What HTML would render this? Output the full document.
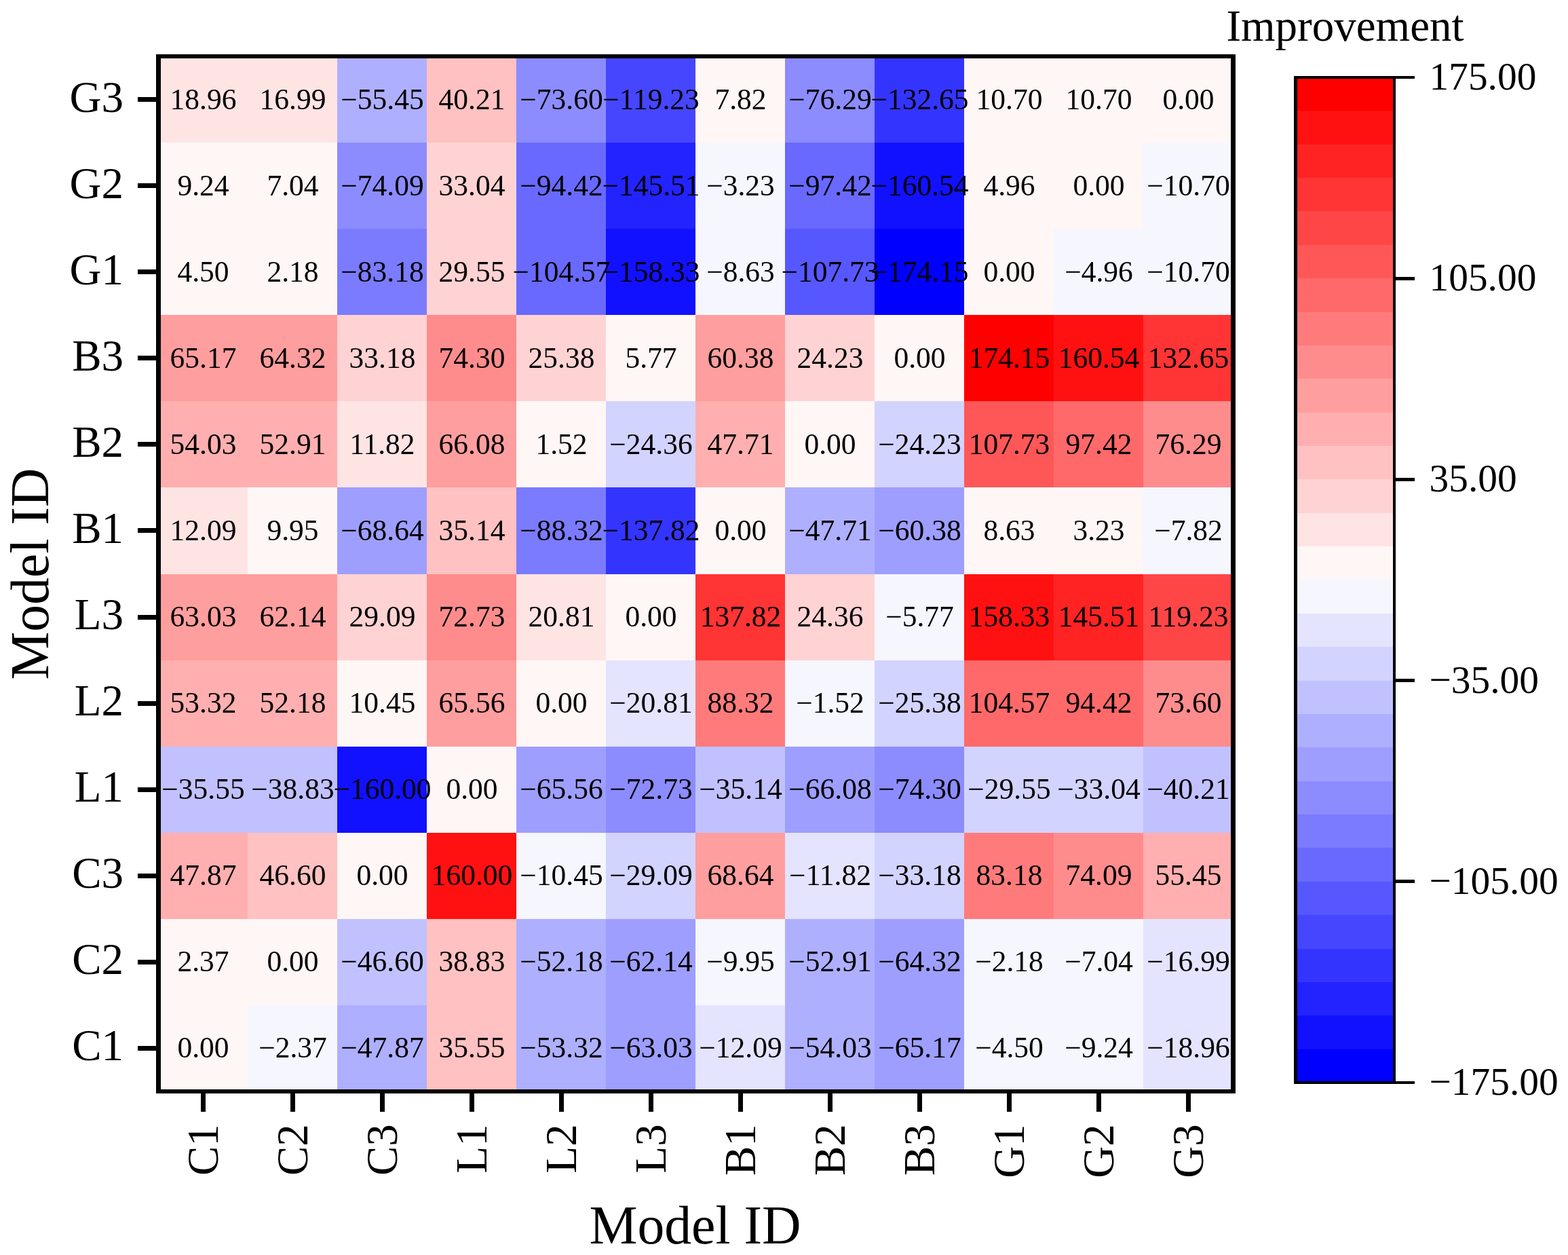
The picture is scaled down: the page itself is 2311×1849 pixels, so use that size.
<!DOCTYPE html>
<html lang="en">
<head>
<meta charset="utf-8">
<title>Improvement heatmap</title>
<style>
html,body{margin:0;padding:0;background:#fff;}
body{width:2311px;height:1849px;overflow:hidden;}
svg{display:block;}
text{font-family:"Liberation Serif","Times New Roman",Times,serif;fill:#000;}
.c{font-size:43.5px;text-anchor:middle;}
.yt{font-size:65.0px;text-anchor:end;}
.xt{font-size:65.0px;text-anchor:end;}
.al{font-size:79.7px;text-anchor:middle;}
.cb{font-size:57.4px;text-anchor:start;}
.tt{font-size:65.0px;text-anchor:middle;}
.cells rect,.bands rect{shape-rendering:crispEdges;}
</style>
</head>
<body>
<svg width="2311" height="1849" viewBox="0 0 2311 1849">
<rect x="0" y="0" width="2311" height="1849" fill="#ffffff"/>
<g class="cells">
<rect x="233" y="83" width="132" height="127" fill="#ffe4e4"/>
<rect x="365" y="83" width="132" height="127" fill="#ffe4e4"/>
<rect x="497" y="83" width="132" height="127" fill="#afafff"/>
<rect x="629" y="83" width="132" height="127" fill="#ffc1c1"/>
<rect x="761" y="83" width="132" height="127" fill="#8c8cff"/>
<rect x="893" y="83" width="132" height="127" fill="#4646ff"/>
<rect x="1025" y="83" width="132" height="127" fill="#fff6f6"/>
<rect x="1157" y="83" width="132" height="127" fill="#8c8cff"/>
<rect x="1289" y="83" width="132" height="127" fill="#3434ff"/>
<rect x="1421" y="83" width="132" height="127" fill="#fff6f6"/>
<rect x="1553" y="83" width="132" height="127" fill="#fff6f6"/>
<rect x="1685" y="83" width="132" height="127" fill="#fff6f6"/>
<rect x="233" y="210" width="132" height="127" fill="#fff6f6"/>
<rect x="365" y="210" width="132" height="127" fill="#fff6f6"/>
<rect x="497" y="210" width="132" height="127" fill="#8c8cff"/>
<rect x="629" y="210" width="132" height="127" fill="#ffd3d3"/>
<rect x="761" y="210" width="132" height="127" fill="#6969ff"/>
<rect x="893" y="210" width="132" height="127" fill="#2323ff"/>
<rect x="1025" y="210" width="132" height="127" fill="#f6f6ff"/>
<rect x="1157" y="210" width="132" height="127" fill="#6969ff"/>
<rect x="1289" y="210" width="132" height="127" fill="#1111ff"/>
<rect x="1421" y="210" width="132" height="127" fill="#fff6f6"/>
<rect x="1553" y="210" width="132" height="127" fill="#fff6f6"/>
<rect x="1685" y="210" width="132" height="127" fill="#f6f6ff"/>
<rect x="233" y="337" width="132" height="127" fill="#fff6f6"/>
<rect x="365" y="337" width="132" height="127" fill="#fff6f6"/>
<rect x="497" y="337" width="132" height="127" fill="#7b7bff"/>
<rect x="629" y="337" width="132" height="127" fill="#ffd3d3"/>
<rect x="761" y="337" width="132" height="127" fill="#6969ff"/>
<rect x="893" y="337" width="132" height="127" fill="#1111ff"/>
<rect x="1025" y="337" width="132" height="127" fill="#f6f6ff"/>
<rect x="1157" y="337" width="132" height="127" fill="#5757ff"/>
<rect x="1289" y="337" width="132" height="127" fill="#0000ff"/>
<rect x="1421" y="337" width="132" height="127" fill="#fff6f6"/>
<rect x="1553" y="337" width="132" height="127" fill="#f6f6ff"/>
<rect x="1685" y="337" width="132" height="127" fill="#f6f6ff"/>
<rect x="233" y="464" width="132" height="127" fill="#ff9e9e"/>
<rect x="365" y="464" width="132" height="127" fill="#ff9e9e"/>
<rect x="497" y="464" width="132" height="127" fill="#ffd3d3"/>
<rect x="629" y="464" width="132" height="127" fill="#ff8c8c"/>
<rect x="761" y="464" width="132" height="127" fill="#ffd3d3"/>
<rect x="893" y="464" width="132" height="127" fill="#fff6f6"/>
<rect x="1025" y="464" width="132" height="127" fill="#ff9e9e"/>
<rect x="1157" y="464" width="132" height="127" fill="#ffd3d3"/>
<rect x="1289" y="464" width="132" height="127" fill="#fff6f6"/>
<rect x="1421" y="464" width="132" height="127" fill="#ff0000"/>
<rect x="1553" y="464" width="132" height="127" fill="#ff1111"/>
<rect x="1685" y="464" width="132" height="127" fill="#ff3434"/>
<rect x="233" y="591" width="132" height="127" fill="#ffafaf"/>
<rect x="365" y="591" width="132" height="127" fill="#ffafaf"/>
<rect x="497" y="591" width="132" height="127" fill="#ffe4e4"/>
<rect x="629" y="591" width="132" height="127" fill="#ff9e9e"/>
<rect x="761" y="591" width="132" height="127" fill="#fff6f6"/>
<rect x="893" y="591" width="132" height="127" fill="#d3d3ff"/>
<rect x="1025" y="591" width="132" height="127" fill="#ffafaf"/>
<rect x="1157" y="591" width="132" height="127" fill="#fff6f6"/>
<rect x="1289" y="591" width="132" height="127" fill="#d3d3ff"/>
<rect x="1421" y="591" width="132" height="127" fill="#ff5757"/>
<rect x="1553" y="591" width="132" height="127" fill="#ff6969"/>
<rect x="1685" y="591" width="132" height="127" fill="#ff8c8c"/>
<rect x="233" y="718" width="132" height="128" fill="#ffe4e4"/>
<rect x="365" y="718" width="132" height="128" fill="#fff6f6"/>
<rect x="497" y="718" width="132" height="128" fill="#9e9eff"/>
<rect x="629" y="718" width="132" height="128" fill="#ffc1c1"/>
<rect x="761" y="718" width="132" height="128" fill="#7b7bff"/>
<rect x="893" y="718" width="132" height="128" fill="#3434ff"/>
<rect x="1025" y="718" width="132" height="128" fill="#fff6f6"/>
<rect x="1157" y="718" width="132" height="128" fill="#afafff"/>
<rect x="1289" y="718" width="132" height="128" fill="#9e9eff"/>
<rect x="1421" y="718" width="132" height="128" fill="#fff6f6"/>
<rect x="1553" y="718" width="132" height="128" fill="#fff6f6"/>
<rect x="1685" y="718" width="132" height="128" fill="#f6f6ff"/>
<rect x="233" y="846" width="132" height="127" fill="#ff9e9e"/>
<rect x="365" y="846" width="132" height="127" fill="#ff9e9e"/>
<rect x="497" y="846" width="132" height="127" fill="#ffd3d3"/>
<rect x="629" y="846" width="132" height="127" fill="#ff8c8c"/>
<rect x="761" y="846" width="132" height="127" fill="#ffe4e4"/>
<rect x="893" y="846" width="132" height="127" fill="#fff6f6"/>
<rect x="1025" y="846" width="132" height="127" fill="#ff3434"/>
<rect x="1157" y="846" width="132" height="127" fill="#ffd3d3"/>
<rect x="1289" y="846" width="132" height="127" fill="#f6f6ff"/>
<rect x="1421" y="846" width="132" height="127" fill="#ff1111"/>
<rect x="1553" y="846" width="132" height="127" fill="#ff2323"/>
<rect x="1685" y="846" width="132" height="127" fill="#ff4646"/>
<rect x="233" y="973" width="132" height="127" fill="#ffafaf"/>
<rect x="365" y="973" width="132" height="127" fill="#ffafaf"/>
<rect x="497" y="973" width="132" height="127" fill="#fff6f6"/>
<rect x="629" y="973" width="132" height="127" fill="#ff9e9e"/>
<rect x="761" y="973" width="132" height="127" fill="#fff6f6"/>
<rect x="893" y="973" width="132" height="127" fill="#e4e4ff"/>
<rect x="1025" y="973" width="132" height="127" fill="#ff7b7b"/>
<rect x="1157" y="973" width="132" height="127" fill="#f6f6ff"/>
<rect x="1289" y="973" width="132" height="127" fill="#d3d3ff"/>
<rect x="1421" y="973" width="132" height="127" fill="#ff6969"/>
<rect x="1553" y="973" width="132" height="127" fill="#ff6969"/>
<rect x="1685" y="973" width="132" height="127" fill="#ff8c8c"/>
<rect x="233" y="1100" width="132" height="127" fill="#c1c1ff"/>
<rect x="365" y="1100" width="132" height="127" fill="#c1c1ff"/>
<rect x="497" y="1100" width="132" height="127" fill="#1111ff"/>
<rect x="629" y="1100" width="132" height="127" fill="#fff6f6"/>
<rect x="761" y="1100" width="132" height="127" fill="#9e9eff"/>
<rect x="893" y="1100" width="132" height="127" fill="#8c8cff"/>
<rect x="1025" y="1100" width="132" height="127" fill="#c1c1ff"/>
<rect x="1157" y="1100" width="132" height="127" fill="#9e9eff"/>
<rect x="1289" y="1100" width="132" height="127" fill="#8c8cff"/>
<rect x="1421" y="1100" width="132" height="127" fill="#d3d3ff"/>
<rect x="1553" y="1100" width="132" height="127" fill="#d3d3ff"/>
<rect x="1685" y="1100" width="132" height="127" fill="#c1c1ff"/>
<rect x="233" y="1227" width="132" height="127" fill="#ffafaf"/>
<rect x="365" y="1227" width="132" height="127" fill="#ffc1c1"/>
<rect x="497" y="1227" width="132" height="127" fill="#fff6f6"/>
<rect x="629" y="1227" width="132" height="127" fill="#ff1111"/>
<rect x="761" y="1227" width="132" height="127" fill="#f6f6ff"/>
<rect x="893" y="1227" width="132" height="127" fill="#d3d3ff"/>
<rect x="1025" y="1227" width="132" height="127" fill="#ff9e9e"/>
<rect x="1157" y="1227" width="132" height="127" fill="#e4e4ff"/>
<rect x="1289" y="1227" width="132" height="127" fill="#d3d3ff"/>
<rect x="1421" y="1227" width="132" height="127" fill="#ff7b7b"/>
<rect x="1553" y="1227" width="132" height="127" fill="#ff8c8c"/>
<rect x="1685" y="1227" width="132" height="127" fill="#ffafaf"/>
<rect x="233" y="1354" width="132" height="127" fill="#fff6f6"/>
<rect x="365" y="1354" width="132" height="127" fill="#fff6f6"/>
<rect x="497" y="1354" width="132" height="127" fill="#c1c1ff"/>
<rect x="629" y="1354" width="132" height="127" fill="#ffc1c1"/>
<rect x="761" y="1354" width="132" height="127" fill="#afafff"/>
<rect x="893" y="1354" width="132" height="127" fill="#9e9eff"/>
<rect x="1025" y="1354" width="132" height="127" fill="#f6f6ff"/>
<rect x="1157" y="1354" width="132" height="127" fill="#afafff"/>
<rect x="1289" y="1354" width="132" height="127" fill="#9e9eff"/>
<rect x="1421" y="1354" width="132" height="127" fill="#f6f6ff"/>
<rect x="1553" y="1354" width="132" height="127" fill="#f6f6ff"/>
<rect x="1685" y="1354" width="132" height="127" fill="#e4e4ff"/>
<rect x="233" y="1481" width="132" height="127" fill="#fff6f6"/>
<rect x="365" y="1481" width="132" height="127" fill="#f6f6ff"/>
<rect x="497" y="1481" width="132" height="127" fill="#afafff"/>
<rect x="629" y="1481" width="132" height="127" fill="#ffc1c1"/>
<rect x="761" y="1481" width="132" height="127" fill="#afafff"/>
<rect x="893" y="1481" width="132" height="127" fill="#9e9eff"/>
<rect x="1025" y="1481" width="132" height="127" fill="#e4e4ff"/>
<rect x="1157" y="1481" width="132" height="127" fill="#afafff"/>
<rect x="1289" y="1481" width="132" height="127" fill="#9e9eff"/>
<rect x="1421" y="1481" width="132" height="127" fill="#f6f6ff"/>
<rect x="1553" y="1481" width="132" height="127" fill="#f6f6ff"/>
<rect x="1685" y="1481" width="132" height="127" fill="#e4e4ff"/>
</g>
<g class="c">
<text x="299.50" y="160.54">18.96</text>
<text x="431.50" y="160.54">16.99</text>
<text x="563.50" y="160.54">−55.45</text>
<text x="695.50" y="160.54">40.21</text>
<text x="827.50" y="160.54">−73.60</text>
<text x="959.50" y="160.54">−119.23</text>
<text x="1091.50" y="160.54">7.82</text>
<text x="1223.50" y="160.54">−76.29</text>
<text x="1355.50" y="160.54">−132.65</text>
<text x="1487.50" y="160.54">10.70</text>
<text x="1619.50" y="160.54">10.70</text>
<text x="1751.50" y="160.54">0.00</text>
<text x="299.50" y="287.62">9.24</text>
<text x="431.50" y="287.62">7.04</text>
<text x="563.50" y="287.62">−74.09</text>
<text x="695.50" y="287.62">33.04</text>
<text x="827.50" y="287.62">−94.42</text>
<text x="959.50" y="287.62">−145.51</text>
<text x="1091.50" y="287.62">−3.23</text>
<text x="1223.50" y="287.62">−97.42</text>
<text x="1355.50" y="287.62">−160.54</text>
<text x="1487.50" y="287.62">4.96</text>
<text x="1619.50" y="287.62">0.00</text>
<text x="1751.50" y="287.62">−10.70</text>
<text x="299.50" y="414.71">4.50</text>
<text x="431.50" y="414.71">2.18</text>
<text x="563.50" y="414.71">−83.18</text>
<text x="695.50" y="414.71">29.55</text>
<text x="827.50" y="414.71">−104.57</text>
<text x="959.50" y="414.71">−158.33</text>
<text x="1091.50" y="414.71">−8.63</text>
<text x="1223.50" y="414.71">−107.73</text>
<text x="1355.50" y="414.71">−174.15</text>
<text x="1487.50" y="414.71">0.00</text>
<text x="1619.50" y="414.71">−4.96</text>
<text x="1751.50" y="414.71">−10.70</text>
<text x="299.50" y="541.79">65.17</text>
<text x="431.50" y="541.79">64.32</text>
<text x="563.50" y="541.79">33.18</text>
<text x="695.50" y="541.79">74.30</text>
<text x="827.50" y="541.79">25.38</text>
<text x="959.50" y="541.79">5.77</text>
<text x="1091.50" y="541.79">60.38</text>
<text x="1223.50" y="541.79">24.23</text>
<text x="1355.50" y="541.79">0.00</text>
<text x="1487.50" y="541.79">174.15</text>
<text x="1619.50" y="541.79">160.54</text>
<text x="1751.50" y="541.79">132.65</text>
<text x="299.50" y="668.88">54.03</text>
<text x="431.50" y="668.88">52.91</text>
<text x="563.50" y="668.88">11.82</text>
<text x="695.50" y="668.88">66.08</text>
<text x="827.50" y="668.88">1.52</text>
<text x="959.50" y="668.88">−24.36</text>
<text x="1091.50" y="668.88">47.71</text>
<text x="1223.50" y="668.88">0.00</text>
<text x="1355.50" y="668.88">−24.23</text>
<text x="1487.50" y="668.88">107.73</text>
<text x="1619.50" y="668.88">97.42</text>
<text x="1751.50" y="668.88">76.29</text>
<text x="299.50" y="795.96">12.09</text>
<text x="431.50" y="795.96">9.95</text>
<text x="563.50" y="795.96">−68.64</text>
<text x="695.50" y="795.96">35.14</text>
<text x="827.50" y="795.96">−88.32</text>
<text x="959.50" y="795.96">−137.82</text>
<text x="1091.50" y="795.96">0.00</text>
<text x="1223.50" y="795.96">−47.71</text>
<text x="1355.50" y="795.96">−60.38</text>
<text x="1487.50" y="795.96">8.63</text>
<text x="1619.50" y="795.96">3.23</text>
<text x="1751.50" y="795.96">−7.82</text>
<text x="299.50" y="923.04">63.03</text>
<text x="431.50" y="923.04">62.14</text>
<text x="563.50" y="923.04">29.09</text>
<text x="695.50" y="923.04">72.73</text>
<text x="827.50" y="923.04">20.81</text>
<text x="959.50" y="923.04">0.00</text>
<text x="1091.50" y="923.04">137.82</text>
<text x="1223.50" y="923.04">24.36</text>
<text x="1355.50" y="923.04">−5.77</text>
<text x="1487.50" y="923.04">158.33</text>
<text x="1619.50" y="923.04">145.51</text>
<text x="1751.50" y="923.04">119.23</text>
<text x="299.50" y="1050.12">53.32</text>
<text x="431.50" y="1050.12">52.18</text>
<text x="563.50" y="1050.12">10.45</text>
<text x="695.50" y="1050.12">65.56</text>
<text x="827.50" y="1050.12">0.00</text>
<text x="959.50" y="1050.12">−20.81</text>
<text x="1091.50" y="1050.12">88.32</text>
<text x="1223.50" y="1050.12">−1.52</text>
<text x="1355.50" y="1050.12">−25.38</text>
<text x="1487.50" y="1050.12">104.57</text>
<text x="1619.50" y="1050.12">94.42</text>
<text x="1751.50" y="1050.12">73.60</text>
<text x="299.50" y="1177.21">−35.55</text>
<text x="431.50" y="1177.21">−38.83</text>
<text x="563.50" y="1177.21">−160.00</text>
<text x="695.50" y="1177.21">0.00</text>
<text x="827.50" y="1177.21">−65.56</text>
<text x="959.50" y="1177.21">−72.73</text>
<text x="1091.50" y="1177.21">−35.14</text>
<text x="1223.50" y="1177.21">−66.08</text>
<text x="1355.50" y="1177.21">−74.30</text>
<text x="1487.50" y="1177.21">−29.55</text>
<text x="1619.50" y="1177.21">−33.04</text>
<text x="1751.50" y="1177.21">−40.21</text>
<text x="299.50" y="1304.29">47.87</text>
<text x="431.50" y="1304.29">46.60</text>
<text x="563.50" y="1304.29">0.00</text>
<text x="695.50" y="1304.29">160.00</text>
<text x="827.50" y="1304.29">−10.45</text>
<text x="959.50" y="1304.29">−29.09</text>
<text x="1091.50" y="1304.29">68.64</text>
<text x="1223.50" y="1304.29">−11.82</text>
<text x="1355.50" y="1304.29">−33.18</text>
<text x="1487.50" y="1304.29">83.18</text>
<text x="1619.50" y="1304.29">74.09</text>
<text x="1751.50" y="1304.29">55.45</text>
<text x="299.50" y="1431.38">2.37</text>
<text x="431.50" y="1431.38">0.00</text>
<text x="563.50" y="1431.38">−46.60</text>
<text x="695.50" y="1431.38">38.83</text>
<text x="827.50" y="1431.38">−52.18</text>
<text x="959.50" y="1431.38">−62.14</text>
<text x="1091.50" y="1431.38">−9.95</text>
<text x="1223.50" y="1431.38">−52.91</text>
<text x="1355.50" y="1431.38">−64.32</text>
<text x="1487.50" y="1431.38">−2.18</text>
<text x="1619.50" y="1431.38">−7.04</text>
<text x="1751.50" y="1431.38">−16.99</text>
<text x="299.50" y="1558.46">0.00</text>
<text x="431.50" y="1558.46">−2.37</text>
<text x="563.50" y="1558.46">−47.87</text>
<text x="695.50" y="1558.46">35.55</text>
<text x="827.50" y="1558.46">−53.32</text>
<text x="959.50" y="1558.46">−63.03</text>
<text x="1091.50" y="1558.46">−12.09</text>
<text x="1223.50" y="1558.46">−54.03</text>
<text x="1355.50" y="1558.46">−65.17</text>
<text x="1487.50" y="1558.46">−4.50</text>
<text x="1619.50" y="1558.46">−9.24</text>
<text x="1751.50" y="1558.46">−18.96</text>
</g>
<g class="frame" fill="#000" shape-rendering="crispEdges">
<rect x="230" y="80" width="1591" height="6"/>
<rect x="230" y="1605" width="1591" height="6"/>
<rect x="230" y="80" width="7" height="1531"/>
<rect x="1814" y="80" width="7" height="1531"/>
</g>
<g class="ticks" fill="#000" shape-rendering="crispEdges">
<rect x="203" y="143" width="27" height="7"/>
<rect x="203" y="270" width="27" height="7"/>
<rect x="203" y="397" width="27" height="7"/>
<rect x="203" y="524" width="27" height="7"/>
<rect x="203" y="651" width="27" height="7"/>
<rect x="203" y="778" width="27" height="7"/>
<rect x="203" y="906" width="27" height="7"/>
<rect x="203" y="1033" width="27" height="7"/>
<rect x="203" y="1160" width="27" height="7"/>
<rect x="203" y="1287" width="27" height="7"/>
<rect x="203" y="1414" width="27" height="7"/>
<rect x="203" y="1541" width="27" height="7"/>
<rect x="296" y="1611" width="7" height="27"/>
<rect x="428" y="1611" width="7" height="27"/>
<rect x="560" y="1611" width="7" height="27"/>
<rect x="692" y="1611" width="7" height="27"/>
<rect x="824" y="1611" width="7" height="27"/>
<rect x="956" y="1611" width="7" height="27"/>
<rect x="1088" y="1611" width="7" height="27"/>
<rect x="1220" y="1611" width="7" height="27"/>
<rect x="1352" y="1611" width="7" height="27"/>
<rect x="1484" y="1611" width="7" height="27"/>
<rect x="1616" y="1611" width="7" height="27"/>
<rect x="1748" y="1611" width="7" height="27"/>
</g>
<g class="yt">
<text x="182.00" y="164.54">G3</text>
<text x="182.00" y="291.62">G2</text>
<text x="182.00" y="418.71">G1</text>
<text x="182.00" y="545.79">B3</text>
<text x="182.00" y="672.88">B2</text>
<text x="182.00" y="799.96">B1</text>
<text x="182.00" y="927.04">L3</text>
<text x="182.00" y="1054.12">L2</text>
<text x="182.00" y="1181.21">L1</text>
<text x="182.00" y="1308.29">C3</text>
<text x="182.00" y="1435.38">C2</text>
<text x="182.00" y="1562.46">C1</text>
</g>
<g class="xt">
<text transform="translate(321.10 1656.20) rotate(-90)">C1</text>
<text transform="translate(453.10 1656.20) rotate(-90)">C2</text>
<text transform="translate(585.10 1656.20) rotate(-90)">C3</text>
<text transform="translate(717.10 1656.20) rotate(-90)">L1</text>
<text transform="translate(849.10 1656.20) rotate(-90)">L2</text>
<text transform="translate(981.10 1656.20) rotate(-90)">L3</text>
<text transform="translate(1113.10 1656.20) rotate(-90)">B1</text>
<text transform="translate(1245.10 1656.20) rotate(-90)">B2</text>
<text transform="translate(1377.10 1656.20) rotate(-90)">B3</text>
<text transform="translate(1509.10 1656.20) rotate(-90)">G1</text>
<text transform="translate(1641.10 1656.20) rotate(-90)">G2</text>
<text transform="translate(1773.10 1656.20) rotate(-90)">G3</text>
</g>
<text class="al" x="1024.60" y="1831.60">Model ID</text>
<text class="al" transform="translate(70.70 845.50) rotate(-90)">Model ID</text>
<g class="bands">
<rect x="1909" y="114" width="146" height="49" fill="#ff0000"/>
<rect x="1909" y="163" width="146" height="50" fill="#ff1111"/>
<rect x="1909" y="213" width="146" height="49" fill="#ff2323"/>
<rect x="1909" y="262" width="146" height="49" fill="#ff3434"/>
<rect x="1909" y="311" width="146" height="50" fill="#ff4646"/>
<rect x="1909" y="361" width="146" height="49" fill="#ff5757"/>
<rect x="1909" y="410" width="146" height="50" fill="#ff6969"/>
<rect x="1909" y="460" width="146" height="49" fill="#ff7b7b"/>
<rect x="1909" y="509" width="146" height="49" fill="#ff8c8c"/>
<rect x="1909" y="558" width="146" height="50" fill="#ff9e9e"/>
<rect x="1909" y="608" width="146" height="49" fill="#ffafaf"/>
<rect x="1909" y="657" width="146" height="49" fill="#ffc1c1"/>
<rect x="1909" y="706" width="146" height="50" fill="#ffd3d3"/>
<rect x="1909" y="756" width="146" height="49" fill="#ffe4e4"/>
<rect x="1909" y="805" width="146" height="49" fill="#fff6f6"/>
<rect x="1909" y="854" width="146" height="50" fill="#f6f6ff"/>
<rect x="1909" y="904" width="146" height="49" fill="#e4e4ff"/>
<rect x="1909" y="953" width="146" height="50" fill="#d3d3ff"/>
<rect x="1909" y="1003" width="146" height="49" fill="#c1c1ff"/>
<rect x="1909" y="1052" width="146" height="49" fill="#afafff"/>
<rect x="1909" y="1101" width="146" height="50" fill="#9e9eff"/>
<rect x="1909" y="1151" width="146" height="49" fill="#8c8cff"/>
<rect x="1909" y="1200" width="146" height="49" fill="#7b7bff"/>
<rect x="1909" y="1249" width="146" height="50" fill="#6969ff"/>
<rect x="1909" y="1299" width="146" height="49" fill="#5757ff"/>
<rect x="1909" y="1348" width="146" height="50" fill="#4646ff"/>
<rect x="1909" y="1398" width="146" height="49" fill="#3434ff"/>
<rect x="1909" y="1447" width="146" height="49" fill="#2323ff"/>
<rect x="1909" y="1496" width="146" height="50" fill="#1111ff"/>
<rect x="1909" y="1546" width="146" height="49" fill="#0000ff"/>
</g>
<g class="cbframe" fill="#000" shape-rendering="crispEdges">
<rect x="1907" y="112" width="150" height="4"/>
<rect x="1907" y="1593" width="150" height="4"/>
<rect x="1907" y="112" width="5" height="1485"/>
<rect x="2053" y="112" width="4" height="1485"/>
<rect x="2057" y="112" width="28" height="4"/>
<rect x="2057" y="408" width="28" height="5"/>
<rect x="2057" y="704" width="28" height="5"/>
<rect x="2057" y="1000" width="28" height="5"/>
<rect x="2057" y="1296" width="28" height="5"/>
<rect x="2057" y="1593" width="28" height="4"/>
</g>
<g class="cb">
<text x="2106.50" y="132.00">175.00</text>
<text x="2106.50" y="428.20">105.00</text>
<text x="2106.50" y="724.40">35.00</text>
<text x="2106.50" y="1020.60">−35.00</text>
<text x="2106.50" y="1316.80">−105.00</text>
<text x="2106.50" y="1613.00">−175.00</text>
</g>
<text class="tt" x="1982.50" y="60.00">Improvement</text>
</svg>
</body>
</html>
